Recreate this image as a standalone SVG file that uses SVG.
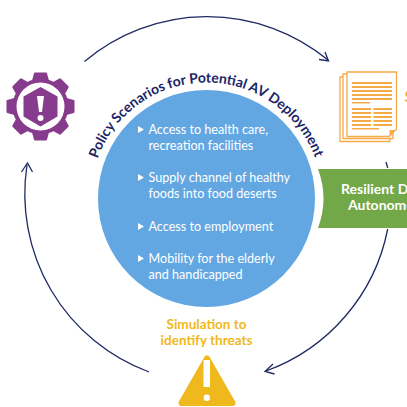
<svg xmlns="http://www.w3.org/2000/svg" width="407" height="407" viewBox="0 0 407 407">
<style>
.c{fill:none;stroke:#1f2a63;stroke-width:1.3}
.o{fill:#fff;stroke:#f5a947;stroke-width:1.3}
.b{fill:#f5a947}
text{font-family:Lato,"Noto Sans",sans-serif}
.w{fill:#fff;font-size:12.6px}
.y{fill:#efb81c;font-size:13.500px;font-weight:700;text-anchor:middle}
.g{fill:#fff;font-size:14px;font-weight:700}
.t{fill:#873b8c;stroke:#873b8c;stroke-width:2;stroke-linejoin:round}
</style>
<defs>
<path id="ta" d="M97.500 158.800 A116 116 0 0 1 315.500 158.800"/>
<path id="tooth" d="M35 73.500 H46 L50 88 H31Z"/>
</defs>
<rect width="407" height="407" fill="#fff"/>
<g id="connectors">
<path class="c" d="M84.500 61.500 A190 190 0 0 1 328 60"/><path class="c" d="M319 59.500 L328.500 61 L325 52"/>
<path class="c" d="M386 162 L387.700 168"/>
<path class="c" d="M387.700 229 A190 190 0 0 1 266 371"/><path class="c" d="M273 364 L265 371.500 L274.500 374"/>
<path class="c" d="M149 372 A190 190 0 0 1 27 165"/><path class="c" d="M21.500 172 L27.500 163 L32.500 172"/>
</g>
<g id="policy">
<circle cx="206.500" cy="198.500" r="108.500" fill="#63a7e2"/>
<text font-size="14" font-weight="700" fill="#1b2566"><textPath href="#ta" textLength="282" lengthAdjust="spacing">Policy Scenarios for Potential AV Deployment</textPath></text>
<path fill="#fff" d="M138 126 l6 3.500 l-6 3.500z M138 174 l6 3.500 l-6 3.500z M138 223 l6 3.500 l-6 3.500z M138 255 l6 3.500 l-6 3.500z"/>
<text class="w" x="148.500" y="134">Access to health care,</text>
<text class="w" x="148.500" y="150">recreation facilities</text>
<text class="w" x="148.500" y="182">Supply channel of healthy</text>
<text class="w" x="148.500" y="198">foods into food deserts</text>
<text class="w" x="148.500" y="231">Access to employment</text>
<text class="w" x="148.500" y="263">Mobility for the elderly</text>
<text class="w" x="148.500" y="279">and handicapped</text>
</g>
<g id="gear">
<circle cx="40.500" cy="106.500" r="28" fill="#873b8c"/>
<use href="#tooth" class="t"/>
<use href="#tooth" class="t" transform="rotate(45 40.500 106.500)"/>
<use href="#tooth" class="t" transform="rotate(90 40.500 106.500)"/>
<use href="#tooth" class="t" transform="rotate(135 40.500 106.500)"/>
<use href="#tooth" class="t" transform="rotate(180 40.500 106.500)"/>
<use href="#tooth" class="t" transform="rotate(225 40.500 106.500)"/>
<use href="#tooth" class="t" transform="rotate(270 40.500 106.500)"/>
<use href="#tooth" class="t" transform="rotate(315 40.500 106.500)"/>
<circle cx="40.500" cy="106.500" r="24" fill="#fff"/>
<path fill="#873b8c" d="M40.500 87 L57.500 96.500 V116.500 L40.500 126.500 L23.500 116.500 V96.500Z"/>
<path fill="#fff" d="M37 96 H44 L42 112 H39Z"/><circle cx="40.500" cy="118" r="3" fill="#fff"/>
</g>
<g id="document">
<path class="o" d="M340 77 V141.500 H390 V77Z"/><path class="o" d="M343 74 V138.500 H393 V74Z"/><path class="o" d="M347 72 H396.500 V129 L389 136.500 H347Z"/>
<path class="b" d="M352 82h40v2h-40z M352 86h40v2h-40z M352 90h40v2h-40z M352 94h40v2h-40z M352 98h40v2h-40z M352 102h18v1.500h-18z M352 108h19v2h-19z M352 112h19v2h-19z M352 116h19v2h-19z M352 120h19v2h-19z M352 124h19v2h-19z M352 128h27v1.500h-27z M373.500 108h18.500v2h-18.500z M373.500 112h18.500v2h-18.500z M373.500 116h18.500v2h-18.500z M373.500 120h18.500v2h-18.500z M373.500 124h18.500v2h-18.500z"/>
<path class="b" d="M389.500 136 V130 H396z"/>
</g>
<text x="404.500" y="102" font-size="16" font-weight="700" fill="#efb81c">S</text>
<g id="green">
<path fill="#72a847" d="M318 169 H407 V228 H318 Q329 198.500 318 169Z"/>
<text class="g" x="341" y="194">Resilient Data</text>
<text class="g" x="348" y="210">Autonomous</text>
</g>
<g id="threat">
<text class="y" x="206.500" y="329">Simulation to</text>
<text class="y" x="206.500" y="345">identify threats</text>
<path fill="#efb81c" stroke="#efb81c" stroke-width="6" stroke-linejoin="round" d="M207 358.500 L232.500 403 H181.500Z"/>
<path fill="#fff" d="M203.500 360 H210 V387 H203.500Z"/><circle cx="206.800" cy="397.700" r="3.200" fill="#fff"/>
</g>
</svg>
